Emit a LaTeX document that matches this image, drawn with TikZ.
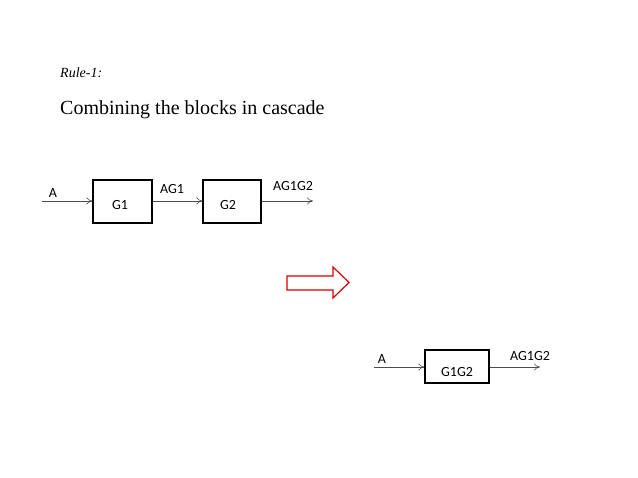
\documentclass[tikz,border=0pt]{standalone}
\usepackage{fontspec}
\setmainfont{Carlito}
\newfontfamily\timesf{Liberation Serif}
\usetikzlibrary{arrows.meta}
\begin{document}
\begin{tikzpicture}[x=1pt,y=-1pt,
  blk/.style={draw,line width=1.2pt,minimum width=#1,inner sep=0pt},
  sig/.style={draw=black!70,line width=0.6pt,-{To[length=6pt,width=7pt]}},
  lbl/.style={font=\fontsize{14}{16}\selectfont,inner sep=0pt}]
\useasboundingbox (0,0) rectangle (638,478);
\node[font=\timesf\itshape\fontsize{14}{16}\selectfont,anchor=west,inner sep=0pt] (rule) at (60,73) {Rule-1:};
\node[font=\timesf\fontsize{20}{24}\selectfont,anchor=west,inner sep=0pt] (title) at (60,110) {Combining the blocks in cascade};
\node[blk=59pt,minimum height=43pt] (g1) at (122.5,201.5) {};
\node[blk=58pt,minimum height=43pt] (g2) at (232,201.5) {};
\node[lbl] at (120,205) {G1};
\node[lbl] at (228,205) {G2};
\coordinate (in) at (42,201);
\coordinate (out) at (313,201);
\draw[sig] (in) -- (in -| g1.west);
\draw[sig] (g1.east |- in) -- (g2.west |- in);
\draw[sig] (g2.east |- in) -- (out);
\node[lbl] (la) at (53,193) {A};
\node[lbl] (lag1) at (172,189) {AG1};
\node[lbl] (lagg) at (293,186) {AG1G2};
\draw[red!85!black,line width=1.2pt,fill=white] (287,276) -- (333,276) -- (333,267) -- (349,282.5) -- (333,298) -- (333,290) -- (287,290) -- cycle;
\node[blk=64pt,minimum height=33pt] (g12) at (457,366.5) {};
\node[lbl] at (457,372) {G1G2};
\coordinate (in2) at (374,367);
\coordinate (out2) at (540,367);
\draw[sig] (in2) -- (in2 -| g12.west);
\draw[sig] (g12.east |- in2) -- (out2);
\node[lbl] (la2) at (382,359) {A};
\node[lbl] (lagg2) at (530,356) {AG1G2};
\end{tikzpicture}
\end{document}
